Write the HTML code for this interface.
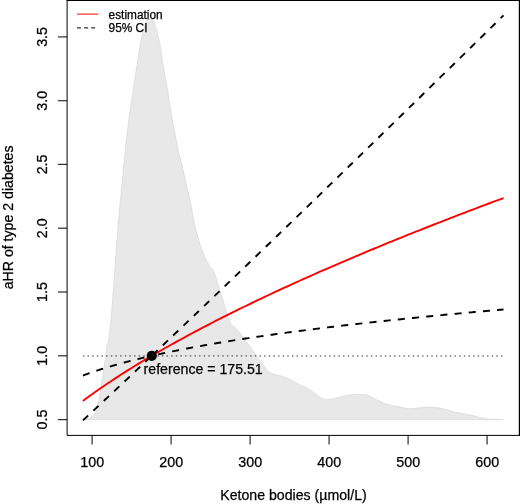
<!DOCTYPE html>
<html><head><meta charset="utf-8"><title>Ketone bodies and type 2 diabetes</title>
<style>
html,body{margin:0;padding:0;background:#fff;}
svg{display:block;}
text{font-family:"Liberation Sans",Arial,Helvetica,sans-serif;fill:#000;stroke:#000;stroke-width:0.25px;}
</style></head><body>
<svg width="520" height="504" viewBox="0 0 520 504">
<rect x="0" y="0" width="520" height="504" fill="#fff"/>
<path d="M85.70,419.60 C86.75,419.13 90.22,418.47 92.00,416.80 C93.78,415.13 95.22,412.58 96.40,409.60 C97.58,406.62 98.20,403.35 99.10,398.90 C100.00,394.45 100.90,388.55 101.80,382.90 C102.70,377.25 103.62,371.25 104.50,365.00 C105.38,358.75 106.42,349.57 107.10,345.40 C107.78,341.23 107.88,345.03 108.60,340.00 C109.32,334.97 110.33,327.27 111.40,315.20 C112.47,303.13 113.80,283.47 115.00,267.60 C116.20,251.73 117.60,232.07 118.60,220.00 C119.60,207.93 119.82,207.27 121.00,195.20 C122.18,183.13 124.28,160.97 125.70,147.60 C127.12,134.23 128.25,124.60 129.50,115.00 C130.75,105.40 132.08,97.45 133.20,90.00 C134.32,82.55 135.23,76.47 136.20,70.30 C137.17,64.13 138.32,57.22 139.00,53.00 C139.68,48.78 139.82,47.72 140.30,45.00 C140.78,42.28 141.30,39.40 141.90,36.70 C142.50,34.00 143.30,31.03 143.90,28.80 C144.50,26.57 145.03,24.72 145.50,23.30 C145.97,21.88 146.25,20.92 146.70,20.30 C147.15,19.68 147.68,19.75 148.20,19.60 C148.72,19.45 149.25,19.40 149.80,19.40 C150.35,19.40 150.97,19.45 151.50,19.60 C152.03,19.75 152.48,19.57 153.00,20.30 C153.52,21.03 154.07,22.58 154.60,24.00 C155.13,25.42 155.60,26.68 156.20,28.80 C156.80,30.92 157.53,34.00 158.20,36.70 C158.87,39.40 159.33,39.87 160.20,45.00 C161.07,50.13 162.20,60.12 163.40,67.50 C164.60,74.88 166.15,82.03 167.40,89.30 C168.65,96.57 169.68,103.83 170.90,111.10 C172.12,118.37 173.38,125.95 174.70,132.90 C176.02,139.85 177.37,146.52 178.80,152.80 C180.23,159.08 181.90,164.65 183.30,170.60 C184.70,176.55 186.08,183.60 187.20,188.50 C188.32,193.40 188.93,194.75 190.00,200.00 C191.07,205.25 192.22,213.50 193.60,220.00 C194.98,226.50 196.52,233.05 198.30,239.00 C200.08,244.95 202.35,251.13 204.30,255.70 C206.25,260.27 208.42,263.73 210.00,266.40 C211.58,269.07 212.10,267.63 213.80,271.70 C215.50,275.77 218.35,284.97 220.20,290.80 C222.05,296.63 223.27,301.45 224.90,306.70 C226.53,311.95 228.00,318.55 230.00,322.30 C232.00,326.05 234.60,326.50 236.90,329.20 C239.20,331.90 241.48,335.42 243.80,338.50 C246.12,341.58 248.68,344.82 250.80,347.70 C252.92,350.58 254.58,353.12 256.50,355.80 C258.42,358.48 260.37,361.30 262.30,363.80 C264.23,366.30 266.18,369.07 268.10,370.80 C270.02,372.53 271.30,373.25 273.80,374.20 C276.30,375.15 280.40,375.62 283.10,376.50 C285.80,377.38 287.32,378.15 290.00,379.50 C292.68,380.85 296.50,383.25 299.20,384.60 C301.90,385.95 303.88,386.37 306.20,387.60 C308.52,388.83 310.80,390.38 313.10,392.00 C315.40,393.62 318.35,396.15 320.00,397.30 C321.65,398.45 321.97,398.52 323.00,398.90 C324.03,399.28 325.12,399.50 326.20,399.60 C327.28,399.70 328.23,399.67 329.50,399.50 C330.77,399.33 331.53,399.15 333.80,398.60 C336.07,398.05 340.40,396.80 343.10,396.20 C345.80,395.60 346.93,395.28 350.00,395.00 C353.07,394.72 358.42,394.37 361.50,394.50 C364.58,394.63 366.00,394.97 368.50,395.80 C371.00,396.63 373.82,398.22 376.50,399.50 C379.18,400.78 381.72,402.45 384.60,403.50 C387.48,404.55 391.23,405.23 393.80,405.80 C396.37,406.37 397.43,406.40 400.00,406.90 C402.57,407.40 406.50,408.57 409.20,408.80 C411.90,409.03 413.88,408.53 416.20,408.30 C418.52,408.07 420.80,407.58 423.10,407.40 C425.40,407.22 427.32,407.08 430.00,407.20 C432.68,407.32 436.50,407.68 439.20,408.10 C441.90,408.52 443.50,409.02 446.20,409.70 C448.90,410.38 451.95,411.43 455.40,412.20 C458.85,412.97 463.43,413.60 466.90,414.30 C470.37,415.00 473.12,415.67 476.20,416.40 C479.28,417.13 482.72,418.23 485.40,418.70 C488.08,419.17 489.42,419.07 492.30,419.20 C495.18,419.33 500.97,419.45 502.70,419.50 L502.9,419.6 L85.7,419.6 Z" fill="#e8e8e8" stroke="#dcdcdc" stroke-width="0.9" stroke-linejoin="round"/>
<line x1="82.90" y1="355.90" x2="504.30" y2="355.90" stroke="#000" stroke-opacity="0.45" stroke-width="1.7" stroke-dasharray="1.5 3.145"/>
<path d="M82.94,400.96 L86.44,398.35 L89.95,395.79 L93.45,393.26 L96.96,390.78 L100.46,388.33 L103.97,385.91 L107.47,383.54 L110.98,381.19 L114.48,378.87 L117.99,376.58 L121.49,374.32 L125.00,372.09 L128.50,369.88 L132.01,367.70 L135.51,365.54 L139.02,363.40 L142.52,361.28 L146.03,359.18 L149.53,357.11 L153.04,355.05 L156.54,353.01 L160.05,350.99 L163.55,348.99 L167.06,347.00 L170.56,345.03 L174.07,343.08 L177.57,341.14 L181.08,339.21 L184.58,337.30 L188.08,335.41 L191.59,333.53 L195.09,331.66 L198.60,329.80 L202.10,327.96 L205.61,326.13 L209.11,324.31 L212.62,322.50 L216.12,320.71 L219.63,318.93 L223.13,317.15 L226.64,315.39 L230.14,313.64 L233.65,311.90 L237.15,310.17 L240.66,308.44 L244.16,306.73 L247.67,305.03 L251.17,303.34 L254.68,301.65 L258.18,299.98 L261.69,298.31 L265.19,296.65 L268.70,295.00 L272.20,293.36 L275.71,291.73 L279.21,290.10 L282.72,288.48 L286.22,286.87 L289.73,285.27 L293.23,283.67 L296.74,282.08 L300.24,280.50 L303.75,278.93 L307.25,277.36 L310.76,275.80 L314.26,274.25 L317.77,272.70 L321.27,271.16 L324.78,269.62 L328.28,268.09 L331.79,266.57 L335.29,265.06 L338.80,263.54 L342.30,262.04 L345.81,260.54 L349.31,259.05 L352.82,257.56 L356.32,256.08 L359.83,254.60 L363.33,253.13 L366.84,251.67 L370.34,250.21 L373.85,248.75 L377.35,247.30 L380.86,245.86 L384.36,244.42 L387.87,242.98 L391.37,241.55 L394.88,240.13 L398.38,238.71 L401.89,237.29 L405.39,235.88 L408.90,234.47 L412.40,233.07 L415.91,231.67 L419.41,230.28 L422.92,228.89 L426.42,227.50 L429.93,226.12 L433.43,224.75 L436.94,223.38 L440.44,222.01 L443.95,220.64 L447.45,219.28 L450.96,217.93 L454.46,216.58 L457.97,215.23 L461.47,213.88 L464.98,212.54 L468.48,211.21 L471.99,209.87 L475.49,208.55 L479.00,207.22 L482.50,205.90 L486.01,204.58 L489.51,203.26 L493.02,201.95 L496.52,200.64 L500.03,199.34 L503.53,198.04" fill="none" stroke="#f00" stroke-width="1.9" stroke-linecap="butt" stroke-linejoin="round"/>
<path d="M82.94,420.38 L83.51,419.84 L84.08,419.31 L84.66,418.78 L85.23,418.25 L85.80,417.71 L86.38,417.18 L86.95,416.65 L87.52,416.12 L88.10,415.58 L88.67,415.05 L89.24,414.52 L89.82,413.98 L90.39,413.45 L90.96,412.91 L91.54,412.38 L92.11,411.85 L92.69,411.31 L93.26,410.78 L93.83,410.24 L94.41,409.71 L94.98,409.17 L95.55,408.64 L96.13,408.10 L96.70,407.57 L97.27,407.03 L97.85,406.50 L98.42,405.96 L98.99,405.43 L99.57,404.89 L100.14,404.36 L100.71,403.82 L101.29,403.29 L101.86,402.75 L102.43,402.21 L103.01,401.68 L103.58,401.14 L104.15,400.61 L104.73,400.07 L105.30,399.53 L105.87,399.00 L106.45,398.46 L107.02,397.92 L107.60,397.39 L108.17,396.85 L108.74,396.31 L109.32,395.77 L109.89,395.24 L110.46,394.70 L111.04,394.16 L111.61,393.63 L112.18,393.09 L112.76,392.55 L113.33,392.01 L113.90,391.47 L114.48,390.94 L115.05,390.40 L115.62,389.86 L116.20,389.32 L116.77,388.78 L117.34,388.25 L117.92,387.71 L118.49,387.17 L119.06,386.63 L119.64,386.09 L120.21,385.55 L120.79,385.01 L121.36,384.47 L121.93,383.94 L122.51,383.40 L123.08,382.86 L123.65,382.32 L124.23,381.78 L124.80,381.24 L125.37,380.70 L125.95,380.16 L126.52,379.62 L127.09,379.08 L127.67,378.54 L128.24,378.00 L128.81,377.46 L129.39,376.92 L129.96,376.38 L130.53,375.84 L131.11,375.30 L131.68,374.76 L132.25,374.22 L132.83,373.68 L133.40,373.14 L133.98,372.60 L134.55,372.06 L135.12,371.52 L135.70,370.97 L136.27,370.43 L136.84,369.89 L137.42,369.35 L137.99,368.81 L138.56,368.27 L139.14,367.73 L139.71,367.19 L140.28,366.64 L140.86,366.10 L141.43,365.56 L142.00,365.02 L142.58,364.48 L143.15,363.94 L143.72,363.39 L144.30,362.85 L144.87,362.31 L145.44,361.77 L146.02,361.23 L146.59,360.68 L147.17,360.14 L147.74,359.60 L148.31,359.06 L148.89,358.51 L149.46,357.97 L150.03,357.43 L150.61,356.89 L151.18,356.34 L151.75,355.80" fill="none" stroke="#000" stroke-width="1.9" stroke-linecap="butt" stroke-linejoin="round" stroke-dasharray="7.1 7.15"/>
<path d="M151.75,355.80 L154.68,353.02 L157.62,350.25 L160.55,347.47 L163.48,344.69 L166.41,341.90 L169.34,339.12 L172.27,336.33 L175.20,333.55 L178.14,330.76 L181.07,327.97 L184.00,325.18 L186.93,322.39 L189.86,319.59 L192.79,316.80 L195.73,314.00 L198.66,311.20 L201.59,308.40 L204.52,305.60 L207.45,302.80 L210.38,300.00 L213.31,297.19 L216.25,294.39 L219.18,291.58 L222.11,288.77 L225.04,285.96 L227.97,283.15 L230.90,280.34 L233.83,277.53 L236.77,274.72 L239.70,271.90 L242.63,269.09 L245.56,266.27 L248.49,263.46 L251.42,260.64 L254.36,257.82 L257.29,255.00 L260.22,252.18 L263.15,249.35 L266.08,246.53 L269.01,243.71 L271.94,240.88 L274.88,238.05 L277.81,235.23 L280.74,232.40 L283.67,229.57 L286.60,226.74 L289.53,223.91 L292.46,221.08 L295.40,218.25 L298.33,215.41 L301.26,212.58 L304.19,209.74 L307.12,206.91 L310.05,204.07 L312.98,201.24 L315.92,198.40 L318.85,195.56 L321.78,192.72 L324.71,189.88 L327.64,187.04 L330.57,184.19 L333.51,181.35 L336.44,178.51 L339.37,175.66 L342.30,172.82 L345.23,169.97 L348.16,167.13 L351.09,164.28 L354.03,161.43 L356.96,158.58 L359.89,155.73 L362.82,152.88 L365.75,150.03 L368.68,147.18 L371.61,144.33 L374.55,141.48 L377.48,138.62 L380.41,135.77 L383.34,132.92 L386.27,130.06 L389.20,127.20 L392.14,124.35 L395.07,121.49 L398.00,118.63 L400.93,115.77 L403.86,112.91 L406.79,110.06 L409.72,107.19 L412.66,104.33 L415.59,101.47 L418.52,98.61 L421.45,95.75 L424.38,92.88 L427.31,90.02 L430.24,87.16 L433.18,84.29 L436.11,81.42 L439.04,78.56 L441.97,75.69 L444.90,72.82 L447.83,69.96 L450.77,67.09 L453.70,64.22 L456.63,61.35 L459.56,58.48 L462.49,55.61 L465.42,52.74 L468.35,49.86 L471.29,46.99 L474.22,44.12 L477.15,41.25 L480.08,38.37 L483.01,35.50 L485.94,32.62 L488.87,29.75 L491.81,26.87 L494.74,23.99 L497.67,21.12 L500.60,18.24 L503.53,15.36" fill="none" stroke="#000" stroke-width="1.9" stroke-linecap="butt" stroke-linejoin="round" stroke-dasharray="7.1 7.15" stroke-dashoffset="13.25"/>
<path d="M82.94,375.55 L83.51,375.34 L84.08,375.12 L84.66,374.91 L85.23,374.70 L85.80,374.48 L86.38,374.27 L86.95,374.06 L87.52,373.86 L88.10,373.65 L88.67,373.45 L89.24,373.24 L89.82,373.04 L90.39,372.84 L90.96,372.64 L91.54,372.44 L92.11,372.24 L92.69,372.04 L93.26,371.84 L93.83,371.65 L94.41,371.46 L94.98,371.26 L95.55,371.07 L96.13,370.88 L96.70,370.69 L97.27,370.50 L97.85,370.31 L98.42,370.12 L98.99,369.94 L99.57,369.75 L100.14,369.57 L100.71,369.39 L101.29,369.20 L101.86,369.02 L102.43,368.84 L103.01,368.66 L103.58,368.48 L104.15,368.30 L104.73,368.13 L105.30,367.95 L105.87,367.77 L106.45,367.60 L107.02,367.42 L107.60,367.25 L108.17,367.08 L108.74,366.91 L109.32,366.74 L109.89,366.57 L110.46,366.40 L111.04,366.23 L111.61,366.06 L112.18,365.89 L112.76,365.73 L113.33,365.56 L113.90,365.40 L114.48,365.23 L115.05,365.07 L115.62,364.91 L116.20,364.74 L116.77,364.58 L117.34,364.42 L117.92,364.26 L118.49,364.10 L119.06,363.94 L119.64,363.78 L120.21,363.63 L120.79,363.47 L121.36,363.31 L121.93,363.16 L122.51,363.00 L123.08,362.85 L123.65,362.69 L124.23,362.54 L124.80,362.39 L125.37,362.24 L125.95,362.08 L126.52,361.93 L127.09,361.78 L127.67,361.63 L128.24,361.48 L128.81,361.34 L129.39,361.19 L129.96,361.04 L130.53,360.89 L131.11,360.75 L131.68,360.60 L132.25,360.46 L132.83,360.31 L133.40,360.17 L133.98,360.02 L134.55,359.88 L135.12,359.74 L135.70,359.59 L136.27,359.45 L136.84,359.31 L137.42,359.17 L137.99,359.03 L138.56,358.89 L139.14,358.75 L139.71,358.61 L140.28,358.47 L140.86,358.34 L141.43,358.20 L142.00,358.06 L142.58,357.92 L143.15,357.79 L143.72,357.65 L144.30,357.52 L144.87,357.38 L145.44,357.25 L146.02,357.11 L146.59,356.98 L147.17,356.85 L147.74,356.72 L148.31,356.58 L148.89,356.45 L149.46,356.32 L150.03,356.19 L150.61,356.06 L151.18,355.93 L151.75,355.80" fill="none" stroke="#000" stroke-width="1.9" stroke-linecap="butt" stroke-linejoin="round" stroke-dasharray="7.1 7.15"/>
<path d="M151.75,355.80 L154.68,355.14 L157.62,354.50 L160.55,353.86 L163.48,353.23 L166.41,352.62 L169.34,352.01 L172.27,351.41 L175.20,350.81 L178.14,350.23 L181.07,349.65 L184.00,349.09 L186.93,348.52 L189.86,347.97 L192.79,347.42 L195.73,346.88 L198.66,346.35 L201.59,345.82 L204.52,345.30 L207.45,344.78 L210.38,344.27 L213.31,343.77 L216.25,343.27 L219.18,342.78 L222.11,342.29 L225.04,341.81 L227.97,341.33 L230.90,340.86 L233.83,340.39 L236.77,339.92 L239.70,339.46 L242.63,339.01 L245.56,338.56 L248.49,338.11 L251.42,337.67 L254.36,337.23 L257.29,336.80 L260.22,336.37 L263.15,335.95 L266.08,335.52 L269.01,335.11 L271.94,334.69 L274.88,334.28 L277.81,333.87 L280.74,333.47 L283.67,333.07 L286.60,332.67 L289.53,332.27 L292.46,331.88 L295.40,331.49 L298.33,331.11 L301.26,330.73 L304.19,330.35 L307.12,329.97 L310.05,329.60 L312.98,329.22 L315.92,328.86 L318.85,328.49 L321.78,328.13 L324.71,327.77 L327.64,327.41 L330.57,327.05 L333.51,326.70 L336.44,326.35 L339.37,326.00 L342.30,325.66 L345.23,325.31 L348.16,324.97 L351.09,324.63 L354.03,324.30 L356.96,323.96 L359.89,323.63 L362.82,323.30 L365.75,322.97 L368.68,322.65 L371.61,322.32 L374.55,322.00 L377.48,321.68 L380.41,321.36 L383.34,321.05 L386.27,320.73 L389.20,320.42 L392.14,320.11 L395.07,319.80 L398.00,319.49 L400.93,319.19 L403.86,318.88 L406.79,318.58 L409.72,318.28 L412.66,317.98 L415.59,317.69 L418.52,317.39 L421.45,317.10 L424.38,316.81 L427.31,316.52 L430.24,316.23 L433.18,315.94 L436.11,315.65 L439.04,315.37 L441.97,315.09 L444.90,314.80 L447.83,314.52 L450.77,314.25 L453.70,313.97 L456.63,313.69 L459.56,313.42 L462.49,313.15 L465.42,312.87 L468.35,312.60 L471.29,312.33 L474.22,312.07 L477.15,311.80 L480.08,311.53 L483.01,311.27 L485.94,311.01 L488.87,310.75 L491.81,310.49 L494.74,310.23 L497.67,309.97 L500.60,309.71 L503.53,309.46" fill="none" stroke="#000" stroke-width="1.9" stroke-linecap="butt" stroke-linejoin="round" stroke-dasharray="7.1 7.15" stroke-dashoffset="7.65"/>
<circle cx="151.75" cy="355.80" r="5.1" fill="#000"/>
<text x="143.6" y="373.8" font-size="14.15">reference = 175.51</text>
<g stroke="#000" stroke-width="1.0" fill="none" stroke-linecap="butt">
<path d="M67.1,0.3 V435.4 H519.4"/>
<line x1="92.1" y1="435.4" x2="92.1" y2="444.4" stroke-width="1.25" stroke-opacity="0.8"/>
<line x1="171.1" y1="435.4" x2="171.1" y2="444.4" stroke-width="1.25" stroke-opacity="0.8"/>
<line x1="250.1" y1="435.4" x2="250.1" y2="444.4" stroke-width="1.25" stroke-opacity="0.8"/>
<line x1="329.1" y1="435.4" x2="329.1" y2="444.4" stroke-width="1.25" stroke-opacity="0.8"/>
<line x1="408.1" y1="435.4" x2="408.1" y2="444.4" stroke-width="1.25" stroke-opacity="0.8"/>
<line x1="487.1" y1="435.4" x2="487.1" y2="444.4" stroke-width="1.25" stroke-opacity="0.8"/>
<line x1="57.9" y1="419.6" x2="67.1" y2="419.6" stroke-width="1.25" stroke-opacity="0.8"/>
<line x1="57.9" y1="355.8" x2="67.1" y2="355.8" stroke-width="1.25" stroke-opacity="0.8"/>
<line x1="57.9" y1="292.0" x2="67.1" y2="292.0" stroke-width="1.25" stroke-opacity="0.8"/>
<line x1="57.9" y1="228.2" x2="67.1" y2="228.2" stroke-width="1.25" stroke-opacity="0.8"/>
<line x1="57.9" y1="164.4" x2="67.1" y2="164.4" stroke-width="1.25" stroke-opacity="0.8"/>
<line x1="57.9" y1="100.7" x2="67.1" y2="100.7" stroke-width="1.25" stroke-opacity="0.8"/>
<line x1="57.9" y1="36.9" x2="67.1" y2="36.9" stroke-width="1.25" stroke-opacity="0.8"/>
</g>
<path d="M66.6,0.5 H519.4 V435.9" stroke="#000" stroke-width="1.2" fill="none"/>
<text x="92.3" y="466.7" font-size="14.3" text-anchor="middle">100</text>
<text x="171.3" y="466.7" font-size="14.3" text-anchor="middle">200</text>
<text x="250.3" y="466.7" font-size="14.3" text-anchor="middle">300</text>
<text x="329.3" y="466.7" font-size="14.3" text-anchor="middle">400</text>
<text x="408.3" y="466.7" font-size="14.3" text-anchor="middle">500</text>
<text x="487.3" y="466.7" font-size="14.3" text-anchor="middle">600</text>
<text transform="translate(46.6,419.6) rotate(-90)" font-size="14.3" text-anchor="middle">0.5</text>
<text transform="translate(46.6,355.8) rotate(-90)" font-size="14.3" text-anchor="middle">1.0</text>
<text transform="translate(46.6,292.0) rotate(-90)" font-size="14.3" text-anchor="middle">1.5</text>
<text transform="translate(46.6,228.2) rotate(-90)" font-size="14.3" text-anchor="middle">2.0</text>
<text transform="translate(46.6,164.4) rotate(-90)" font-size="14.3" text-anchor="middle">2.5</text>
<text transform="translate(46.6,100.7) rotate(-90)" font-size="14.3" text-anchor="middle">3.0</text>
<text transform="translate(46.6,36.9) rotate(-90)" font-size="14.3" text-anchor="middle">3.5</text>
<text x="293.5" y="500.3" font-size="14.15" text-anchor="middle">Ketone bodies (µmol/L)</text>
<text transform="translate(13.3,217.4) rotate(-90)" font-size="14.15" text-anchor="middle">aHR of type 2 diabetes</text>
<line x1="77" y1="14.1" x2="98.3" y2="14.1" stroke="#f00" stroke-width="1.0"/>
<line x1="77" y1="27.9" x2="98.3" y2="27.9" stroke="#000" stroke-width="1.0" stroke-dasharray="3.9 3.2"/>
<text x="108.6" y="18.5" font-size="11.85">estimation</text>
<text x="108.6" y="32.1" font-size="11.85">95% CI</text>
</svg></body></html>
